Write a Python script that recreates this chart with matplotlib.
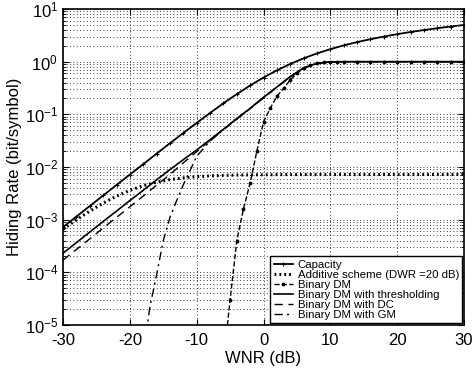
import matplotlib

matplotlib.use("Agg")
import matplotlib.pyplot as plt
from matplotlib.ticker import LogLocator, NullFormatter

plt.rcParams["font.family"] = ["Liberation Sans", "DejaVu Sans"]
plt.rcParams["mathtext.fontset"] = "custom"
plt.rcParams["mathtext.rm"] = "Liberation Sans"
plt.rcParams["mathtext.it"] = "Liberation Sans:italic"
plt.rcParams["mathtext.bf"] = "Liberation Sans:bold"
plt.rcParams["axes.unicode_minus"] = False

# ---------------------------------------------------------------------------
# data
# ---------------------------------------------------------------------------
wnr_2db = [-30, -28, -26, -24, -22, -20, -18, -16, -14, -12, -10, -8, -6, -4, -2,
           0, 2, 4, 6, 8, 10, 12, 14, 16, 18, 20, 22, 24, 26, 28, 30]

capacity = [7.21e-4, 1.14e-3, 1.81e-3, 2.87e-3, 4.54e-3, 7.18e-3, 1.13e-2, 1.79e-2,
            2.82e-2, 4.41e-2, 6.88e-2, 0.106, 0.162, 0.242, 0.353,
            0.5, 0.685, 0.906, 1.158, 1.435, 1.730, 2.037, 2.354, 2.675, 3.001,
            3.329, 3.659, 3.989, 4.320, 4.652, 4.984]

additive = [6.56e-4, 9.86e-4, 1.45e-3, 2.05e-3, 2.79e-3, 3.60e-3, 4.41e-3, 5.14e-3,
            5.74e-3, 6.20e-3, 6.53e-3, 6.76e-3, 6.91e-3, 7.01e-3, 7.07e-3,
            7.11e-3, 7.14e-3, 7.16e-3, 7.17e-3, 7.17e-3, 7.17e-3, 7.18e-3, 7.18e-3,
            7.18e-3, 7.18e-3, 7.18e-3, 7.18e-3, 7.18e-3, 7.18e-3, 7.18e-3, 7.18e-3]

thresholding = [2.3e-4, 3.65e-4, 5.8e-4, 9.2e-4, 1.45e-3, 2.3e-3, 3.6e-3, 5.7e-3,
                8.9e-3, 1.38e-2, 2.1e-2, 3.3e-2, 5.2e-2, 8.3e-2, 0.13,
                0.21, 0.33, 0.52, 0.76, 0.93, 0.99, 1.0, 1.0, 1.0, 1.0,
                1.0, 1.0, 1.0, 1.0, 1.0, 1.0]

dc = [1.7e-4, 2.7e-4, 4.3e-4, 6.9e-4, 1.1e-3, 1.75e-3, 2.8e-3, 4.5e-3,
      7.2e-3, 1.2e-2, 1.95e-2, 3.2e-2, 5.1e-2, 8.1e-2, 0.128,
      0.205, 0.325, 0.515, 0.75, 0.92, 0.985, 1.0, 1.0, 1.0, 1.0,
      1.0, 1.0, 1.0, 1.0, 1.0, 1.0]

wnr_gm = [-18, -17, -16, -15, -14, -13, -12, -11, -10, -8, -6, -4, -2,
          0, 2, 4, 6, 8, 10, 12, 16, 20, 24, 30]
gm = [3e-6, 2.2e-5, 9e-5, 4e-4, 1.1e-3, 2.3e-3, 4.6e-3, 8.5e-3, 1.6e-2, 3.1e-2,
      5.1e-2, 8.2e-2, 0.13, 0.208, 0.33, 0.52, 0.76, 0.93, 0.99, 1.0, 1.0, 1.0,
      1.0, 1.0]

wnr_bdm = [-6, -5, -4, -3, -2, -1, 0, 1, 2, 3, 4, 5, 6, 7, 8, 9, 10, 11,
           12, 14, 16, 18, 20, 22, 24, 26, 28, 30]
binary_dm = [2e-6, 3e-5, 4e-4, 1.6e-3, 5e-3, 0.02, 0.072, 0.13, 0.22, 0.31, 0.45,
             0.6, 0.75, 0.86, 0.93, 0.97, 0.99, 0.997, 1.0, 1.0, 1.0, 1.0, 1.0,
             1.0, 1.0, 1.0, 1.0, 1.0]

# ---------------------------------------------------------------------------
fig = plt.figure(figsize=(4.74, 3.76), dpi=100)
ax = fig.add_axes([0.133, 0.136, 0.846, 0.840])

ax.plot(wnr_2db, capacity, color="black", lw=1.3, marker="+", ms=3, mew=0.8,
        label="Capacity")
ax.plot(wnr_2db, additive, color="black", lw=2.2, linestyle=(0, (0.6, 1.0)),
        label="Additive scheme (DWR =20 dB)")
ax.plot(wnr_bdm, binary_dm, color="black", lw=1.0, linestyle="--", marker=".",
        ms=3.5, label="Binary DM")
ax.plot(wnr_2db, thresholding, color="black", lw=1.2,
        label="Binary DM with thresholding")
ax.plot(wnr_2db, dc, color="black", lw=1.0, linestyle=(0, (6, 4)),
        label="Binary DM with DC")
ax.plot(wnr_gm, gm, color="black", lw=1.0, linestyle=(0, (6, 3, 1.5, 3)),
        label="Binary DM with GM")

ax.set_yscale("log")
ax.set_xlim(-30, 30)
ax.set_ylim(1e-5, 1e1)
ax.set_xticks([-30, -20, -10, 0, 10, 20, 30])
ax.yaxis.set_major_locator(LogLocator(base=10, numticks=10))
ax.yaxis.set_minor_locator(LogLocator(base=10, subs=range(2, 10), numticks=20))
ax.yaxis.set_minor_formatter(NullFormatter())

ax.grid(True, which="major", linestyle=(0, (1, 3)), color="black", lw=0.6)
ax.grid(True, which="minor", axis="y", linestyle=(0, (1, 3)), color="black", lw=0.6)

ax.tick_params(which="both", direction="in", top=True, right=True, labelsize=12)
ax.tick_params(axis="x", pad=6)
ax.tick_params(which="major", length=4)
ax.tick_params(which="minor", length=2)
for s in ax.spines.values():
    s.set_linewidth(1.2)

ax.set_xlabel("WNR (dB)", fontsize=12, labelpad=2)
ax.set_ylabel("Hiding Rate (bit/symbol)", fontsize=12, labelpad=2)

leg = ax.legend(loc="lower right", fontsize=8.2, frameon=True, fancybox=False,
                edgecolor="black", framealpha=1, borderpad=0.3, labelspacing=0.0,
                handlelength=1.7, handletextpad=0.4, borderaxespad=0.15)
leg.get_frame().set_linewidth(1.0)

fig.savefig("out.png", dpi=100)
